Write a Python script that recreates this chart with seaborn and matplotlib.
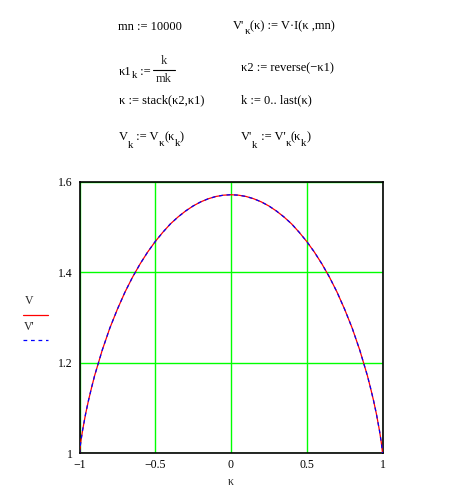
import matplotlib
matplotlib.use("Agg")
import matplotlib.pyplot as plt
import numpy as np
import pandas as pd
import seaborn as sns
from matplotlib.lines import Line2D

# values (V and V' lie on top of each other)
kappa = [-1.0, -0.999, -0.995, -0.99, -0.98, -0.96, -0.94, -0.92, -0.9, -0.85,
         -0.8, -0.75, -0.7, -0.65, -0.6, -0.55, -0.5, -0.45, -0.4, -0.35,
         -0.3, -0.25, -0.2, -0.15, -0.1, -0.05, 0.0,
         0.05, 0.1, 0.15, 0.2, 0.25, 0.3, 0.35, 0.4, 0.45,
         0.5, 0.55, 0.6, 0.65, 0.7, 0.75, 0.8, 0.85, 0.9,
         0.92, 0.94, 0.96, 0.98, 0.99, 0.995, 0.999, 1.0]
v_exact = [1.0, 1.004, 1.016, 1.0285, 1.0501, 1.0865, 1.1177, 1.1455, 1.1717, 1.2277,
           1.2763, 1.318, 1.3557, 1.3888, 1.4181, 1.4443, 1.4675, 1.4879, 1.5064, 1.5216,
           1.5348, 1.546, 1.555, 1.5619, 1.5669, 1.5698, 1.5708,
           1.5698, 1.5669, 1.5619, 1.555, 1.546, 1.5348, 1.5216, 1.5064, 1.4879,
           1.4675, 1.4443, 1.4181, 1.3888, 1.3557, 1.318, 1.2763, 1.2277, 1.1717,
           1.1455, 1.1177, 1.0865, 1.0501, 1.0285, 1.016, 1.004, 1.0]
v_numeric = [1.0, 1.004, 1.016, 1.0285, 1.0501, 1.0865, 1.1177, 1.1455, 1.1717, 1.2277,
             1.2763, 1.318, 1.3557, 1.3888, 1.4181, 1.4443, 1.4675, 1.4879, 1.5064, 1.5216,
             1.5348, 1.546, 1.555, 1.5619, 1.5669, 1.5698, 1.5708,
             1.5698, 1.5669, 1.5619, 1.555, 1.546, 1.5348, 1.5216, 1.5064, 1.4879,
             1.4675, 1.4443, 1.4181, 1.3888, 1.3557, 1.318, 1.2763, 1.2277, 1.1717,
             1.1455, 1.1177, 1.0865, 1.0501, 1.0285, 1.016, 1.004, 1.0]
x_ticks = [-1, -0.5, 0, 0.5, 1]
x_tick_labels = ["\u22121", "\u22120.5", "0", "0.5", "1"]
y_ticks = [1, 1.2, 1.4, 1.6]
y_tick_labels = ["1", "1.2", "1.4", "1.6"]

sns.set_theme(style="white")
plt.rcParams["font.family"] = ["Liberation Serif", "DejaVu Serif"]

W, H = 450, 500
fig = plt.figure(figsize=(4.5, 5), dpi=100)
fig.patch.set_facecolor("white")
renderer = fig.canvas.get_renderer()

fs = 9
tick_fs = 8.5
K = "\u03ba"


def put_runs(x, y, runs):
    # runs: (text, drop in px); drop > 0 means subscript, drawn a bit smaller
    for s, drop in runs:
        size = fs if drop == 0 else fs * 0.85
        t = fig.text(x / W, 1 - (y + drop) / H, s, fontsize=size,
                     ha="left", va="center", color="black")
        bb = t.get_window_extent(renderer=renderer)
        x += bb.width


put_runs(118, 27, [("mn := 10000", 0)])
put_runs(233, 26, [("V'", 0), (K, 6), ("(" + K + ") := V\u00b7I(" + K + " ,mn)", 0)])
put_runs(119, 72, [(K + "1", 0), ("k", 4), (" :=", 0)])
fig.text(164 / W, 1 - 61 / H, "k", fontsize=fs, ha="center", va="center")
fig.add_artist(Line2D([153 / W, 175 / W], [1 - 70 / H, 1 - 70 / H], color="black", linewidth=0.8))
fig.text(164 / W, 1 - 79 / H, "mk", fontsize=fs, ha="center", va="center")
put_runs(241, 68, [(K + "2 := reverse(\u2212" + K + "1)", 0)])
put_runs(119, 100, [(K + " := stack(" + K + "2," + K + "1)", 0)])
put_runs(241, 100, [("k := 0.. last(" + K + ")", 0)])
put_runs(119, 137, [("V", 0), ("k", 8), (" := V", 0), (K, 7), ("(" + K, 0), ("k", 6), (")", 0)])
put_runs(241, 137, [("V'", 0), ("k", 8), (" := V'", 0), (K, 7), ("(" + K, 0), ("k", 6), (")", 0)])

left, right, top, bottom = 79.5, 382.5, 181.5, 453.3
ax = fig.add_axes([left / W, 1 - bottom / H, (right - left) / W, (bottom - top) / H])

df = pd.DataFrame({"kappa": kappa, "V": v_exact, "Vp": v_numeric})
sns.lineplot(data=df, x="kappa", y="V", ax=ax, color="#ff0000", linewidth=0.9,
             sort=False, estimator=None, zorder=3)
sns.lineplot(data=df, x="kappa", y="Vp", ax=ax, color="#0000ff", linewidth=0.9,
             sort=False, estimator=None, zorder=4, linestyle=(0, (3, 3)))

ax.set_xlim(-1, 1)
ax.set_ylim(1, 1.6)
ax.set_xticks(x_ticks)
ax.set_xticklabels(x_tick_labels)
ax.set_yticks(y_ticks)
ax.set_yticklabels(y_tick_labels)
ax.tick_params(length=0, labelsize=tick_fs, colors="black")
ax.tick_params(axis="x", pad=4)
ax.tick_params(axis="y", pad=5)
ax.grid(True, color="#00ff00", linewidth=1.0)
ax.set_axisbelow(True)
for sp in ax.spines.values():
    sp.set_color("black")
    sp.set_linewidth(1.2)
ax.set_xlabel(K, fontsize=tick_fs, labelpad=4)
ax.set_ylabel("")

# Mathcad style legend on the left
fig.text(29 / W, 1 - 301 / H, "V", fontsize=tick_fs, ha="center", va="center")
fig.add_artist(Line2D([23 / W, 48 / W], [1 - 315 / H, 1 - 315 / H], color="#ff0000", linewidth=0.9))
fig.text(29 / W, 1 - 327 / H, "V'", fontsize=tick_fs, ha="center", va="center")
fig.add_artist(Line2D([23 / W, 48 / W], [1 - 340 / H, 1 - 340 / H], color="#0000ff",
                      linewidth=0.9, linestyle=(0, (3, 3))))

fig.savefig("out.png", dpi=100, facecolor="white")
